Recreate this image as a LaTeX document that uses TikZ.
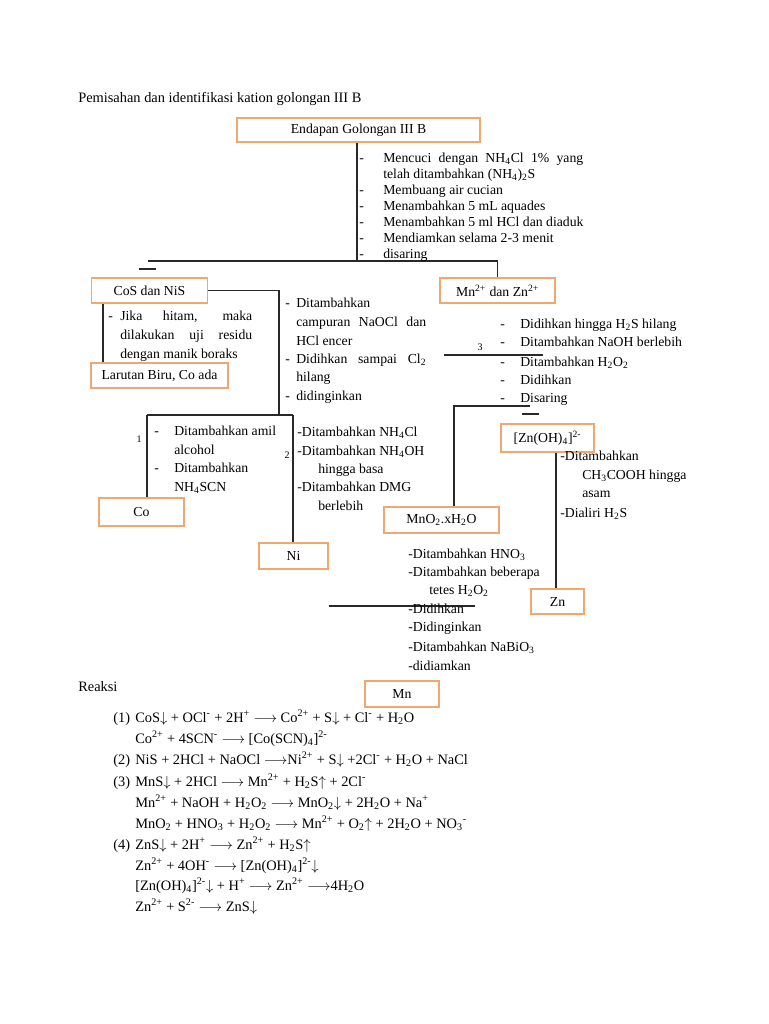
\documentclass[tikz,border=0pt]{standalone}
\usepackage{fontspec}
\setmainfont{Liberation Serif}
\newcommand{\dn}{\ensuremath{\downarrow}}
\newcommand{\upa}{\ensuremath{\uparrow}}
\newcommand{\rarr}{\ensuremath{\longrightarrow}}
\newcommand{\sbs}[1]{\textsubscript{#1}}
\newcommand{\sps}[1]{\textsuperscript{#1}}
\newcommand{\fc}{\fontsize{10.3}{12}\selectfont}
\newcommand{\fr}{\fontsize{10.8}{13}\selectfont}
\definecolor{boxor}{RGB}{240,168,112}
\definecolor{lnk}{RGB}{40,40,40}
\begin{document}
\begin{tikzpicture}[x=0.75pt,y=-0.75pt,
  box/.style={draw=boxor,line width=1.1pt,inner sep=0pt,font=\fc,anchor=center},
  txt/.style={anchor=mid west,inner sep=0pt,font=\fc},
  rtxt/.style={anchor=mid west,inner sep=0pt,font=\fr},
  num/.style={anchor=center,inner sep=0pt,font=\fontsize{7.5}{9}\selectfont},
  link/.style={draw=lnk,line width=0.8pt}]
\useasboundingbox (0,0) rectangle (768,1024);
\fill[white] (0,0) rectangle (768,1024);

% title
\node[txt,font=\fontsize{10.8}{13}\selectfont] (title) at (78,99) {Pemisahan dan identifikasi kation golongan III B};

% boxes
\node[box,minimum width=182.25pt,minimum height=18pt] (endapan) at (358.5,130) {Endapan Golongan III B};
\node[box,minimum width=87pt,minimum height=18.75pt] (cos) at (149.5,290.5) {CoS dan NiS};
\node[box,minimum width=86.25pt,minimum height=18.75pt] (mnz) at (497.5,290.5) {Mn\sps{2+} dan Zn\sps{2+}};
\node[box,minimum width=102.75pt,minimum height=18.75pt] (larutan) at (159.5,375.5) {Larutan Biru, Co ada};
\node[box,minimum width=69.75pt,minimum height=21pt] (znoh) at (547.5,438) {[Zn(OH)\sbs{4}]\sps{2-}};
\node[box,minimum width=63.75pt,minimum height=21pt] (co) at (141.5,512) {Co};
\node[box,minimum width=86.25pt,minimum height=19.5pt] (mno2) at (441.5,520) {MnO\sbs{2}.xH\sbs{2}O};
\node[box,minimum width=51.75pt,minimum height=19.5pt] (ni) at (293.5,556) {Ni};
\node[box,minimum width=39.75pt,minimum height=18.75pt] (zn) at (557.5,601.5) {Zn};
\node[box,minimum width=55.5pt,minimum height=19.5pt] (mn) at (402,694) {Mn};

% connectors
\coordinate (hl) at (148,261);
\coordinate (xl) at (103,0);
\coordinate (xe) at (357,0);
\coordinate (sL) at (147,415);
\coordinate (sR) at (293,415);
\coordinate (sM) at (279,415);
\coordinate (xm) at (454,0);
\coordinate (mnT) at (530,406);
\coordinate (xz) at (556,0);
\draw[link] (endapan.south -| xe) -- (hl -| xe);
\draw[link] (hl) -- (hl -| mnz.north) -- (mnz.north);
\coordinate (tk1a) at (139,269); \coordinate (tk1b) at (156,269);
\draw[link] (tk1a) -- (tk1b);
\draw[link] (cos.east) -| (sM);
\draw[link] (sL) -- (sR);
\draw[link] (sL) -- (sL |- co.north);
\draw[link] (sR) -- (sR |- ni.north);
\draw[link] (cos.south -| xl) -- (larutan.north -| xl);
\coordinate (st1) at (444,355); \coordinate (st2) at (543,355);
\draw[link] (st1) -- (st2);
\draw[link] (mnT) -| (mno2.north -| xm);
\coordinate (tk2a) at (522,414); \coordinate (tk2b) at (539,414);
\draw[link] (tk2a) -- (tk2b);
\draw[link] (znoh.south -| xz) -- (zn.north -| xz);
\coordinate (st3) at (329,606); \coordinate (st4) at (475,606);
\draw[link] (st3) -- (st4);

% top list
\node[txt] (d1) at (359,159) {-};
\node[txt] (a1) at (383,159) {\makebox[150pt][s]{Mencuci dengan NH\sbs{4}Cl 1\% yang}};
\node[txt] (a2) at (383,175) {telah ditambahkan (NH\sbs{4})\sbs{2}S};
\node[txt] (d3) at (359,191) {-};
\node[txt] (a3) at (383,191) {Membuang air cucian};
\node[txt] (d4) at (359,207) {-};
\node[txt] (a4) at (383,207) {Menambahkan 5 mL aquades};
\node[txt] (d5) at (359,223) {-};
\node[txt] (a5) at (383,223) {Menambahkan 5 ml HCl dan diaduk};
\node[txt] (d6) at (359,239) {-};
\node[txt] (a6) at (383,239) {Mendiamkan selama 2-3 menit};
\node[txt] (d7) at (359,255) {-};
\node[txt] (a7) at (383,255) {disaring};

% Jika hitam
\node[txt] (jd) at (108,317) {-};
\node[txt] (j1) at (120,317) {\makebox[99pt][s]{Jika hitam, maka}};
\node[txt] (j2) at (120,336) {\makebox[99pt][s]{dilakukan uji residu}};
\node[txt] (j3) at (120,355) {dengan manik boraks};

% middle list
\node[txt] (md1) at (285,304) {-};
\node[txt] (m1) at (296,304) {Ditambahkan};
\node[txt] (m2) at (296,323) {\makebox[97.5pt][s]{campuran NaOCl dan}};
\node[txt] (m3) at (296,342) {HCl encer};
\node[txt] (md4) at (285,360) {-};
\node[txt] (m4) at (296,360) {\makebox[97.5pt][s]{Didihkan sampai Cl\sbs{2}}};
\node[txt] (m5) at (296,378) {hilang};
\node[txt] (md6) at (285,397) {-};
\node[txt] (m6) at (296,397) {didinginkan};

% right list
\node[txt] (rd1) at (500,325) {-};
\node[txt] (r1) at (520,325) {Didihkan hingga H\sbs{2}S hilang};
\node[txt] (rd2) at (500,343) {-};
\node[txt] (r2) at (520,343) {Ditambahkan NaOH berlebih};
\node[txt] (rd3) at (500,363) {-};
\node[txt] (r3) at (520,363) {Ditambahkan H\sbs{2}O\sbs{2}};
\node[txt] (rd4) at (500,381) {-};
\node[txt] (r4) at (520,381) {Didihkan};
\node[txt] (rd5) at (500,399) {-};
\node[txt] (r5) at (520,399) {Disaring};
\node[num] (n3) at (480,347) {3};

% Co branch
\node[num] (n1) at (139,439) {1};
\node[txt] (cd1) at (154,432) {-};
\node[txt] (c1) at (174,432) {Ditambahkan amil};
\node[txt] (c2) at (174,451) {alcohol};
\node[txt] (cd3) at (154,469) {-};
\node[txt] (c3) at (174,469) {Ditambahkan};
\node[txt] (c4) at (174,488) {NH\sbs{4}SCN};

% Ni branch
\node[num] (n2) at (287,455) {2};
\node[txt] (i1) at (297,433) {-Ditambahkan NH\sbs{4}Cl};
\node[txt] (i2) at (297,452) {-Ditambahkan NH\sbs{4}OH};
\node[txt] (i3) at (318,470) {hingga basa};
\node[txt] (i4) at (297,488) {-Ditambahkan DMG};
\node[txt] (i5) at (318,507) {berlebih};

% Zn branch
\node[txt] (z1) at (560,457) {-Ditambahkan};
\node[txt] (z2) at (582,476) {CH\sbs{3}COOH hingga};
\node[txt] (z3) at (582,494) {asam};
\node[txt] (z4) at (560,514) {-Dialiri H\sbs{2}S};

% Mn branch
\node[txt] (k1) at (408,555) {-Ditambahkan HNO\sbs{3}};
\node[txt] (k2) at (408,573) {-Ditambahkan beberapa};
\node[txt] (k3) at (429,591) {tetes H\sbs{2}O\sbs{2}};
\node[txt] (k4) at (408,610) {-Didihkan};
\node[txt] (k5) at (408,628) {-Didinginkan};
\node[txt] (k6) at (408,648) {-Ditambahkan NaBiO\sbs{3}};
\node[txt] (k7) at (408,667) {-didiamkan};

% reactions
\node[rtxt] (reaksi) at (78,688) {Reaksi};
\node[rtxt] (p1) at (113,719) {(1)};
\node[rtxt] (e1) at (135,719) {CoS\dn{} + OCl\sps{-} + 2H\sps{+} \rarr{} Co\sps{2+} + S\dn{} + Cl\sps{-} + H\sbs{2}O};
\node[rtxt] (e2) at (135,740) {Co\sps{2+} + 4SCN\sps{-} \rarr{} [Co(SCN)\sbs{4}]\sps{2-}};
\node[rtxt] (p2) at (113,761) {(2)};
\node[rtxt] (e3) at (135,761) {NiS + 2HCl + NaOCl \rarr Ni\sps{2+} + S\dn{} +2Cl\sps{-} + H\sbs{2}O + NaCl};
\node[rtxt] (p3) at (113,783) {(3)};
\node[rtxt] (e4) at (135,783) {MnS\dn{} + 2HCl \rarr{} Mn\sps{2+} + H\sbs{2}S\upa{} + 2Cl\sps{-}};
\node[rtxt] (e5) at (135,804) {Mn\sps{2+} + NaOH + H\sbs{2}O\sbs{2} \rarr{} MnO\sbs{2}\dn{} + 2H\sbs{2}O + Na\sps{+}};
\node[rtxt] (e6) at (135,825) {MnO\sbs{2} + HNO\sbs{3} + H\sbs{2}O\sbs{2} \rarr{} Mn\sps{2+} + O\sbs{2}\upa{} + 2H\sbs{2}O + NO\sbs{3}\sps{-}};
\node[rtxt] (p4) at (113,846) {(4)};
\node[rtxt] (e7) at (135,846) {ZnS\dn{} + 2H\sps{+} \rarr{} Zn\sps{2+} + H\sbs{2}S\upa};
\node[rtxt] (e8) at (135,867) {Zn\sps{2+} + 4OH\sps{-} \rarr{} [Zn(OH)\sbs{4}]\sps{2-}\dn};
\node[rtxt] (e9) at (135,887) {[Zn(OH)\sbs{4}]\sps{2-}\dn{} + H\sps{+} \rarr{} Zn\sps{2+} \rarr4H\sbs{2}O};
\node[rtxt] (e10) at (135,908) {Zn\sps{2+} + S\sps{2-} \rarr{} ZnS\dn};
\end{tikzpicture}
\end{document}
